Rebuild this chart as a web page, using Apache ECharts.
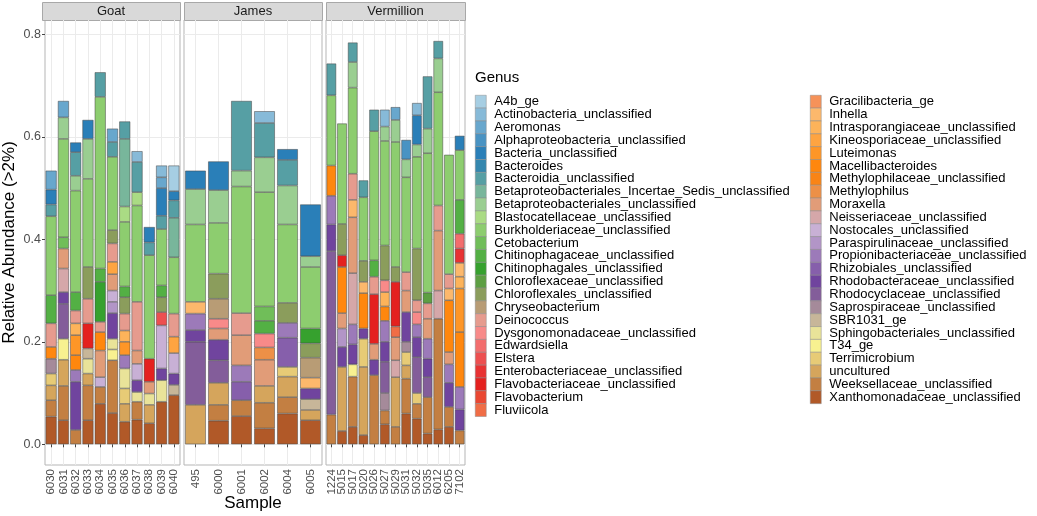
<!DOCTYPE html>
<html>
<head>
<meta charset="utf-8">
<script src="https://cdn.jsdelivr.net/npm/echarts@6/dist/echarts.min.js"></script>
<style>
html, body { margin: 0; padding: 0; background: #fff; }
#chart { width: 1037px; height: 516px; }
</style>
</head>
<body>
<div id="chart"></div>
<script>
// genus levels, legend order
var genera = [
  'A4b_ge', 'Actinobacteria_unclassified', 'Aeromonas', 'Alphaproteobacteria_unclassified',
  'Bacteria_unclassified', 'Bacteroides', 'Bacteroidia_unclassified',
  'Betaproteobacteriales_Incertae_Sedis_unclassified', 'Betaproteobacteriales_unclassified',
  'Blastocatellaceae_unclassified', 'Burkholderiaceae_unclassified', 'Cetobacterium',
  'Chitinophagaceae_unclassified', 'Chitinophagales_unclassified', 'Chloroflexaceae_unclassified',
  'Chloroflexales_unclassified', 'Chryseobacterium', 'Deinococcus', 'Dysgonomonadaceae_unclassified',
  'Edwardsiella', 'Elstera', 'Enterobacteriaceae_unclassified', 'Flavobacteriaceae_unclassified',
  'Flavobacterium', 'Fluviicola',
  'Gracilibacteria_ge', 'Inhella', 'Intrasporangiaceae_unclassified', 'Kineosporiaceae_unclassified',
  'Luteimonas', 'Macellibacteroides', 'Methylophilaceae_unclassified', 'Methylophilus', 'Moraxella',
  'Neisseriaceae_unclassified', 'Nostocales_unclassified', 'Paraspirulinaceae_unclassified',
  'Propionibacteriaceae_unclassified', 'Rhizobiales_unclassified', 'Rhodobacteraceae_unclassified',
  'Rhodocyclaceae_unclassified', 'Saprospiraceae_unclassified', 'SBR1031_ge',
  'Sphingobacteriales_unclassified', 'T34_ge', 'Terrimicrobium', 'uncultured',
  'Weeksellaceae_unclassified', 'Xanthomonadaceae_unclassified'
];

var goatSamples = ['6030', '6031', '6032', '6033', '6034', '6035', '6036', '6037', '6038', '6039', '6040'];
var jamesSamples = ['495', '6000', '6001', '6002', '6004', '6005'];
var vermSamples = ['1224', '5015', '5017', '5020', '5026', '5027', '5029', '5031', '5032', '5035', '6012', '6205', '7102'];

// one bar per sample: [genus index, abundance] from bottom to top
var goatStacks = [
  [[48,.054],[47,.032],[46,.029],[45,.023],[41,.029],[30,.023],[17,.046],[12,.055],[10,.154],[6,.023],[4,.029],[2,.037]],
  [[48,.047],[47,.067],[46,.051],[44,.041],[40,.068],[39,.023],[34,.046],[33,.039],[11,.022],[10,.192],[8,.042],[2,.032]],
  [[47,.028],[39,.094],[37,.023],[30,.029],[29,.039],[27,.023],[17,.025],[12,.036],[10,.198],[8,.029],[6,.046],[4,.019]],
  [[48,.047],[47,.068],[46,.023],[43,.029],[42,.020],[22,.049],[17,.048],[15,.062],[10,.172],[8,.078],[4,.037]],
  [[48,.079],[47,.033],[35,.019],[33,.052],[30,.036],[17,.020],[13,.078],[12,.026],[10,.335],[6,.048]],
  [[48,.061],[47,.103],[44,.021],[43,.021],[39,.050],[36,.022],[35,.022],[33,.032],[28,.024],[17,.036],[15,.026],[10,.143],[6,.029],[2,.026]],
  [[48,.044],[46,.035],[45,.030],[43,.039],[37,.026],[29,.026],[27,.022],[17,.033],[15,.032],[12,.021],[10,.126],[9,.030],[7,.132],[6,.034]],
  [[48,.048],[47,.035],[43,.019],[39,.023],[35,.032],[33,.026],[17,.095],[10,.188],[9,.026],[6,.059],[1,.021]],
  [[48,.041],[46,.036],[43,.022],[33,.023],[22,.045],[10,.202],[6,.025],[4,.030]],
  [[48,.083],[43,.042],[39,.023],[35,.084],[20,.026],[15,.029],[12,.023],[10,.110],[6,.026],[4,.054],[2,.021],[1,.023]],
  [[48,.096],[42,.020],[39,.022],[35,.040],[28,.032],[17,.045],[10,.110],[7,.077],[6,.034],[4,.018],[0,.050]]
];
var jamesStacks = [
  [[46,.077],[40,.123],[39,.023],[37,.032],[26,.023],[10,.151],[8,.069],[4,.036]],
  [[48,.046],[47,.031],[46,.043],[40,.044],[39,.040],[33,.022],[18,.019],[16,.039],[15,.049],[10,.099],[8,.064],[4,.056]],
  [[48,.055],[47,.031],[38,.036],[37,.032],[33,.059],[17,.043],[10,.247],[8,.031],[6,.136]],
  [[48,.031],[47,.050],[46,.033],[33,.051],[32,.024],[18,.027],[12,.025],[11,.028],[10,.223],[8,.068],[6,.067],[1,.023]],
  [[48,.060],[47,.032],[46,.040],[45,.019],[38,.057],[37,.029],[15,.039],[10,.153],[8,.076],[6,.050],[4,.021]],
  [[48,.047],[46,.020],[42,.021],[39,.021],[26,.021],[16,.039],[15,.028],[13,.029],[10,.120],[8,.021],[4,.101]]
];
var vermStacks = [
  [[47,.058],[40,.319],[39,.052],[37,.056],[30,.059],[10,.137],[6,.062]],
  [[48,.026],[46,.125],[39,.039],[36,.036],[33,.030],[30,.090],[22,.023],[15,.061],[10,.196]],
  [[48,.034],[47,.098],[44,.024],[39,.039],[37,.039],[34,.100],[33,.109],[26,.034],[17,.051],[10,.168],[8,.050],[6,.038]],
  [[48,.018],[46,.133],[45,.055],[39,.020],[30,.069],[26,.022],[15,.041],[10,.124],[6,.033]],
  [[47,.135],[39,.030],[33,.031],[22,.097],[17,.034],[12,.032],[10,.252],[6,.042]],
  [[48,.039],[47,.027],[41,.034],[40,.061],[39,.039],[37,.041],[30,.028],[27,.028],[18,.023],[15,.068],[10,.204],[8,.028],[1,.033]],
  [[47,.034],[46,.097],[34,.033],[33,.045],[24,.021],[22,.087],[15,.029],[10,.244],[8,.043],[2,.025]],
  [[48,.060],[47,.068],[46,.026],[45,.026],[41,.020],[39,.058],[33,.042],[17,.036],[10,.185],[8,.035],[3,.038]],
  [[48,.050],[47,.029],[45,.021],[40,.070],[39,.039],[37,.025],[18,.024],[17,.023],[15,.101],[10,.179],[8,.024],[4,.057],[1,.024]],
  [[48,.021],[47,.071],[40,.039],[39,.036],[37,.039],[33,.039],[17,.030],[14,.021],[10,.272],[8,.048],[6,.102]],
  [[48,.029],[47,.216],[34,.055],[33,.117],[17,.049],[10,.221],[8,.066],[6,.034]],
  [[48,.034],[47,.039],[39,.047],[37,.036],[33,.024],[30,.101],[26,.023],[17,.028],[10,.233]],
  [[47,.027],[39,.041],[37,.044],[30,.107],[29,.085],[27,.023],[26,.027],[21,.028],[19,.029],[12,.066],[10,.097],[4,.028]]
];

var yTicks = [0, 0.2, 0.4, 0.6, 0.8];

// colorRampPalette(brewer.pal(12, "Paired"))
var paired = ['#A6CEE3', '#1F78B4', '#B2DF8A', '#33A02C', '#FB9A99', '#E31A1C',
              '#FDBF6F', '#FF7F00', '#CAB2D6', '#6A3D9A', '#FFFF99', '#B15928'];
function rampColors(base, n) {
  var rgb = base.map(function (h) {
    return [parseInt(h.substr(1, 2), 16), parseInt(h.substr(3, 2), 16), parseInt(h.substr(5, 2), 16)];
  });
  var out = [];
  for (var i = 0; i < n; i++) {
    var t = i * (rgb.length - 1) / (n - 1);
    var k = Math.min(Math.floor(t), rgb.length - 2);
    var f = t - k;
    var c = [0, 1, 2].map(function (j) { return Math.round(rgb[k][j] + f * (rgb[k + 1][j] - rgb[k][j])); });
    out.push('rgb(' + c.join(',') + ')');
  }
  return out;
}
var colors = rampColors(paired, genera.length);

var facets = [
  { name: 'Goat', samples: goatSamples, stacks: goatStacks, left: 42, width: 138 },
  { name: 'James', samples: jamesSamples, stacks: jamesStacks, left: 184, width: 138 },
  { name: 'Vermillion', samples: vermSamples, stacks: vermStacks, left: 326, width: 139 }
];
var panelTop = 20, panelHeight = 445;

var grid = [], xAxis = [], yAxis = [], series = [], graphic = [];
facets.forEach(function (f, fi) {
  grid.push({
    left: f.left, top: panelTop, width: f.width, height: panelHeight,
    show: true, borderColor: '#b5b5b5', borderWidth: 1, backgroundColor: '#fff'
  });
  xAxis.push({
    gridIndex: fi, type: 'category', data: f.samples,
    axisLine: { show: false },
    axisTick: { show: true, alignWithLabel: true, length: 3, lineStyle: { color: '#444' } },
    axisLabel: { rotate: 90, interval: 0, fontSize: 11.5, color: '#4D4D4D', margin: 4, fontFamily: 'Liberation Sans' },
    splitLine: { show: true, interval: 0, alignWithLabel: true, lineStyle: { color: '#EBEBEB', width: 1 } }
  });
  yAxis.push({
    gridIndex: fi, type: 'value', min: -0.0404, max: 0.828,
    axisLine: { show: false },
    axisTick: { show: fi === 0, length: 3, customValues: yTicks, lineStyle: { color: '#444' } },
    axisLabel: {
      show: fi === 0, customValues: yTicks, fontSize: 12.5, color: '#4D4D4D', margin: 4,
      fontFamily: 'Liberation Sans',
      formatter: function (v) { return v.toFixed(1); }
    },
    splitLine: { show: true, lineStyle: { color: '#EBEBEB', width: 1 } },
    name: fi === 0 ? 'Relative Abundance (>2%)' : '',
    nameLocation: 'middle', nameGap: 27,
    nameTextStyle: { fontSize: 17, color: '#000', fontFamily: 'Liberation Sans' }
  });
  // stacked from the last genus level upward, as ggplot does
  for (var g = genera.length - 1; g >= 0; g--) {
    var data = f.stacks.map(function (bar) {
      for (var k = 0; k < bar.length; k++) {
        if (bar[k][0] === g) return bar[k][1];
      }
      return null;
    });
    series.push({
      name: genera[g], type: 'bar', stack: 'total' + fi,
      xAxisIndex: fi, yAxisIndex: fi, data: data,
      barCategoryGap: '10%',
      itemStyle: { color: colors[g], borderColor: 'rgba(70,70,70,0.85)', borderWidth: 0.6 },
      emphasis: { disabled: true }
    });
  }
  // facet strip
  graphic.push({
    type: 'rect', left: f.left, top: 2,
    shape: { width: f.width, height: 18 },
    style: { fill: '#D9D9D9', stroke: '#a8a8a8', lineWidth: 1 }
  });
  graphic.push({
    type: 'text', x: f.left + f.width / 2, y: 11,
    style: { text: f.name, fill: '#1A1A1A', fontSize: 13, fontFamily: 'Liberation Sans', align: 'center', verticalAlign: 'middle' }
  });
});

graphic.push({
  type: 'text', x: 253, y: 503,
  style: { text: 'Sample', fill: '#000', fontSize: 17, fontFamily: 'Liberation Sans', align: 'center', verticalAlign: 'middle' }
});
graphic.push({
  type: 'text', x: 475, y: 78,
  style: { text: 'Genus', fill: '#000', fontSize: 15, fontFamily: 'Liberation Sans', align: 'left', verticalAlign: 'middle' }
});

function legendAt(left, names) {
  return {
    orient: 'vertical', left: left, top: 95, padding: 0,
    itemWidth: 11, itemHeight: 12.85, itemGap: -0.5,
    icon: 'rect', selectedMode: false,
    itemStyle: { borderWidth: 0.5, borderColor: '#8a8a8a' },
    textStyle: { fontSize: 13, color: '#000', fontFamily: 'Liberation Sans', padding: [0, 0, 0, 3] },
    data: names
  };
}

var option = {
  animation: false,
  backgroundColor: '#fff',
  grid: grid,
  xAxis: xAxis,
  yAxis: yAxis,
  series: series,
  legend: [legendAt(475, genera.slice(0, 25)), legendAt(810, genera.slice(25))],
  graphic: graphic
};

var chart = echarts.init(document.getElementById('chart'));
chart.setOption(option);
</script>
</body>
</html>
